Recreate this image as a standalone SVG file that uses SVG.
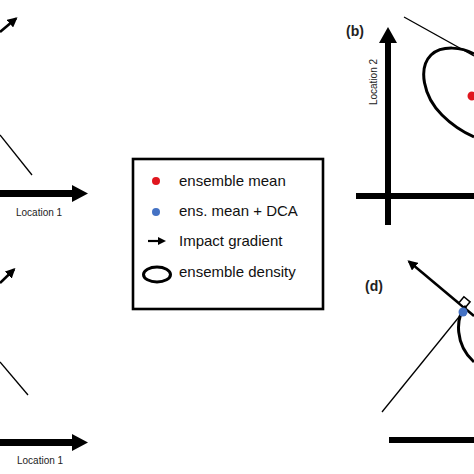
<svg xmlns="http://www.w3.org/2000/svg" width="474" height="474" viewBox="0 0 474 474">
<defs>
<style>
.lbl{font-family:"Liberation Sans",Arial,sans-serif;font-size:10px;fill:#222}
.leg{font-family:"Liberation Sans",Arial,sans-serif;font-size:15px;fill:#111}
.pan{font-family:"Liberation Sans",Arial,sans-serif;font-size:14px;font-weight:bold;fill:#222}
.thin{stroke:#000;stroke-width:1.3;fill:none}
.grad{stroke:#000;stroke-width:2.5;fill:none}
.dens{stroke:#000;stroke-width:3;fill:none}
.axis{fill:#000}
</style>
<marker id="ah" viewBox="0 0 10 10" refX="8" refY="5" markerWidth="4" markerHeight="4" orient="auto" markerUnits="strokeWidth">
<path d="M0,0 L10,5 L0,10 z" fill="#000"/>
</marker>
</defs>
<rect width="474" height="474" fill="#fff"/>

<g id="panel-a">
<path class="grad" d="M0,32 L16,18.5" marker-end="url(#ah)"/>
<line class="thin" x1="0" y1="135" x2="32" y2="175"/>
<path class="axis" d="M0,190 H72 V185 L88,193.5 L72,202 V197 H0 z"/>
<text class="lbl" x="16" y="216">Location 1</text>
</g>

<g id="panel-c">
<path class="grad" d="M0,283 L14,269.5" marker-end="url(#ah)"/>
<line class="thin" x1="0" y1="362" x2="28" y2="395"/>
<path class="axis" d="M0,439 H72 V434 L88,442.5 L72,451 V446 H0 z"/>
<text class="lbl" x="17" y="464">Location 1</text>
</g>

<g id="panel-b">
<text class="pan" x="346" y="36">(b)</text>
<path class="axis" d="M385,225 V43 H379 L388,27 L397,43 H391 V225 z"/>
<rect class="axis" x="356" y="193" width="118" height="6"/>
<text class="lbl" transform="translate(377,82) rotate(-90)" text-anchor="middle">Location 2</text>
<line class="thin" x1="404" y1="17" x2="474" y2="56"/>
<path class="dens" d="M474,54 C462,47 442,45 431,55 C418,68 423,96 442,115 C452,125 463,132 474,137"/>
<circle cx="472" cy="96" r="4.5" fill="#e0161e"/>
</g>

<g id="panel-d">
<text class="pan" x="365" y="291">(d)</text>
<path class="grad" d="M474,316 L409,261.5" marker-end="url(#ah)"/>
<path d="M465,308 L458.8,302.9 L463.9,296.7 L470.1,301.8 z" fill="#fff" stroke="#000" stroke-width="1.5"/>
<line class="thin" x1="382" y1="412" x2="463" y2="312"/>
<path class="dens" d="M466,306 C455,318 455,345 474,362"/>
<circle cx="463" cy="312" r="4.5" fill="#4472c4"/>
<rect class="axis" x="389" y="437" width="85" height="6"/>
</g>

<g id="legend">
<rect x="133" y="159" width="190" height="150" fill="#fff" stroke="#000" stroke-width="2.6"/>
<circle cx="156" cy="181" r="4" fill="#e0161e"/>
<text class="leg" x="179" y="186">ensemble mean</text>
<circle cx="156" cy="212" r="4" fill="#4472c4"/>
<text class="leg" x="179" y="216">ens. mean + DCA</text>
<path d="M148,241 H160" stroke="#000" stroke-width="2.2"/>
<path d="M158,237 L166,241 L158,245 z" fill="#000"/>
<text class="leg" x="179" y="246">Impact gradient</text>
<ellipse cx="157" cy="274.5" rx="13.5" ry="7.5" fill="none" stroke="#000" stroke-width="3"/>
<text class="leg" x="179" y="277">ensemble density</text>
</g>
</svg>
